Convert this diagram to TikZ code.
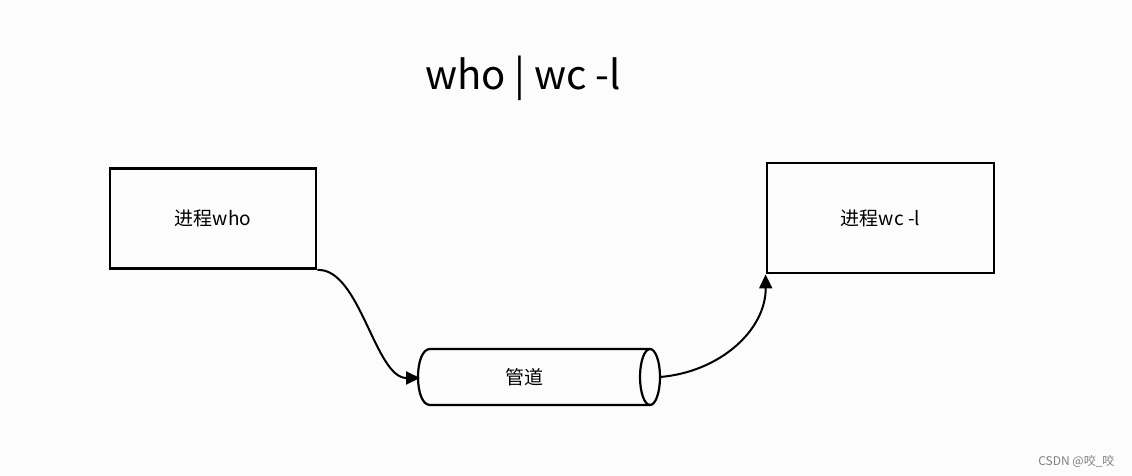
\documentclass[tikz,border=0pt]{standalone}
\usepackage{fontspec}
\setmainfont{Noto Sans CJK SC}
\usetikzlibrary{arrows.meta}
\begin{document}
\begin{tikzpicture}[x=1pt,y=-1pt,
  box/.style={draw,line width=2.8pt,minimum width=206pt,minimum height=100pt,inner sep=0pt,font=\fontsize{19}{22}\selectfont},
  conn/.style={line width=2pt,-{Triangle[length=14pt,width=13pt]}}]
\fill[fill={rgb,255:red,252;green,252;blue,252}] (0,0) rectangle (1132,476);
\useasboundingbox (0,0) rectangle (1132,476);
\node (title) at (523,78) {\fontsize{40}{46}\selectfont who | wc -l};
\node[box] (p1) at (213,218.5) {进程who};
\node[box,minimum width=227pt,minimum height=110pt] (p2) at (880.5,218) {进程wc -l};
\draw[line width=2.2pt] (650,349) -- (430,349) .. controls (414,349) and (414,405) .. (430,405) -- (650,405);
\draw[line width=2.2pt] (650,377) ellipse [x radius=10,y radius=28];
\coordinate (pin) at (420,378);
\coordinate (pout) at (660,377);
\node (pipe) at (524,377) {\fontsize{19}{22}\selectfont 管道};
\draw[conn] (p1.south east) .. controls (360,268) and (375,378) .. (pin);
\draw[conn] (pout) .. controls (720,372) and (766,330) .. (p2.south west);
\node[anchor=east,text=gray,font=\fontsize{12}{14}\selectfont] (wm) at (1118,461) {CSDN @咬\_咬};
\end{tikzpicture}
\end{document}
